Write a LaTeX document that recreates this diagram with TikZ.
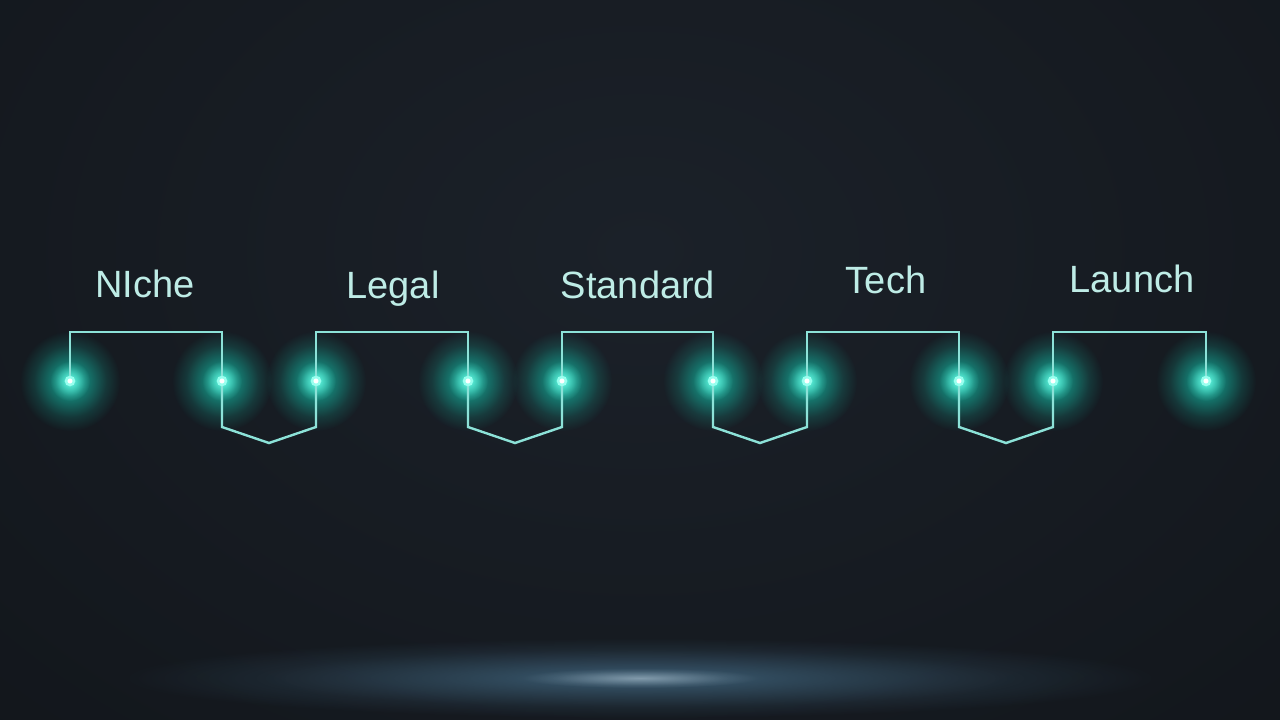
\documentclass[tikz,border=0pt]{standalone}
\usepackage{fontspec}
\setmainfont{Liberation Sans}
\usetikzlibrary{fadings}
\definecolor{bgout}{RGB}{14,17,21}
\definecolor{bgin}{RGB}{27,33,41}
\definecolor{wirec}{RGB}{140,226,216}
\definecolor{glowc}{RGB}{20,190,168}
\definecolor{corec}{RGB}{110,255,232}
\definecolor{txtc}{RGB}{190,236,230}
\definecolor{floorc}{RGB}{75,120,150}
\pgfdeclareradialshading{glowsh}{\pgfpointorigin}{color(0bp)=(pgftransparent!5); color(8bp)=(pgftransparent!40); color(18bp)=(pgftransparent!82); color(25bp)=(pgftransparent!100); color(50bp)=(pgftransparent!100)}
\pgfdeclarefading{softglow}{\pgfuseshading{glowsh}}
\pgfdeclarelayer{back}
\pgfdeclarelayer{glow}
\pgfdeclarelayer{wire}
\pgfsetlayers{back,glow,wire,main}
\tikzset{
  dotcore/.style={circle, inner sep=0pt, minimum size=8pt, fill=white, draw=corec!70!white, line width=2.5pt},
  wireline/.style={draw=wirec, line width=2.4pt, line join=miter},
  lbl/.style={text=txtc, font=\fontsize{38}{40}\selectfont, anchor=base, inner sep=0pt}
}
\begin{document}
\begin{tikzpicture}[x=1pt,y=-1pt]
\useasboundingbox (0,0) rectangle (1280,720);
\begin{pgfonlayer}{back}
  \fill[bgout] (0,0) rectangle (1280,720);
  \shade[inner color=bgin, outer color=bgout] (640,250) ellipse (1400 and 1000);
  \fill[floorc, path fading=softglow, fill opacity=0.75] (640,678) ellipse (520 and 40);
  \fill[white!60!floorc, path fading=softglow, fill opacity=0.6] (640,678) ellipse (120 and 10);
\end{pgfonlayer}
% dots
\foreach \i/\x in {1/70,2/222,3/316,4/468,5/562,6/713,7/807,8/959,9/1053,10/1206}
  \node[dotcore] (d\i) at (\x,381) {};
\begin{pgfonlayer}{glow}
  \foreach \i in {1,...,10}{
    \fill[glowc, path fading=softglow] (d\i) circle (50);
    \fill[corec, path fading=softglow] (d\i) circle (20);
  }
\end{pgfonlayer}
\begin{pgfonlayer}{wire}
  \draw[wireline] (d1.center) -- ++(0,-49) -| (d2.center);
  \draw[wireline] (d3.center) -- ++(0,-49) -| (d4.center);
  \draw[wireline] (d5.center) -- ++(0,-49) -| (d6.center);
  \draw[wireline] (d7.center) -- ++(0,-49) -| (d8.center);
  \draw[wireline] (d9.center) -- ++(0,-49) -| (d10.center);
  \draw[wireline] (d2.center) -- ++(0,46) -- ++(47,16) -- ++(47,-16) -- (d3.center);
  \draw[wireline] (d4.center) -- ++(0,46) -- ++(47,16) -- ++(47,-16) -- (d5.center);
  \draw[wireline] (d6.center) -- ++(0,46) -- ++(47,16) -- ++(47,-16) -- (d7.center);
  \draw[wireline] (d8.center) -- ++(0,46) -- ++(47,16) -- ++(47,-16) -- (d9.center);
\end{pgfonlayer}
% labels
\node[lbl] (t1) at (145,297) {NIche};
\node[lbl] (t2) at (393,298) {Legal};
\node[lbl] (t3) at (638,298) {Standard};
\node[lbl] (t4) at (886,293) {Tech};
\node[lbl] (t5) at (1132,292) {Launch};
\end{tikzpicture}
\end{document}
